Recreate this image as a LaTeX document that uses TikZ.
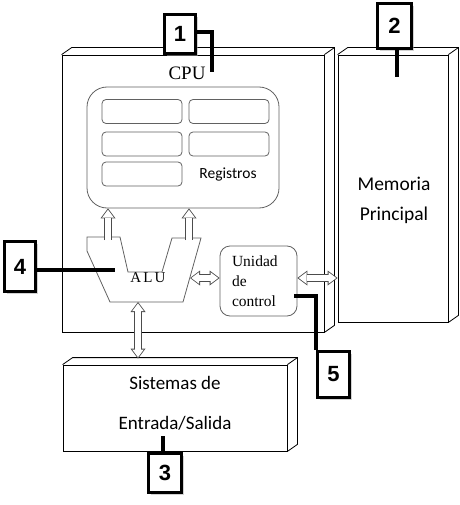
\documentclass[tikz,border=0pt]{standalone}
\usepackage{fontspec}
\newfontfamily\calfont{Carlito}
\newfontfamily\timesfont{Liberation Serif}
\newfontfamily\alufont[LetterSpace=14]{Liberation Serif}
\newfontfamily\numfont{Liberation Sans}
\usetikzlibrary{arrows.meta,shadows}
\colorlet{shapeline}{black!62}

\begin{document}
\begin{tikzpicture}[x=1pt, y=-1pt,
    cube/.style={draw, line width=0.8pt, rectangle, inner sep=0pt},
    regbox/.style={draw=shapeline, line width=0.8pt, rounded corners=4pt, minimum width=80pt, minimum height=24pt},
    callout/.style={draw, line width=3.2pt, fill=white, inner sep=0pt,
        drop shadow={shadow xshift=2.5pt, shadow yshift=-2.5pt, fill=black!35},
        font=\numfont\bfseries\fontsize{22}{22}\selectfont},
    lead/.style={line width=3.2pt},
    busout/.tip={Triangle[length=10pt, width=15pt, line width=0pt]},
    busin/.tip={Triangle[length=7.7pt, width=11.6pt, line width=0pt]},
    bus/.style={white, line width=6.2pt, shorten >=1.4pt, shorten <=1.4pt, {busin}-{busin},
        preaction={draw=black!70, line width=8pt, shorten >=0pt, shorten <=0pt, {busout}-{busout}}},
    busup/.style={white, line width=6.2pt, shorten >=1.4pt, -{busin},
        preaction={draw=black!70, line width=8pt, shorten >=0pt, -{busout}}}]
    \useasboundingbox (0,0) rectangle (459,505);

    % cajas principales
    \node[cube, minimum width=262pt, minimum height=277pt] (cpu) at (193,193.5) {};
    \node[cube, minimum width=110pt, minimum height=267pt] (mem) at (393,188.5) {};
    \node[cube, minimum width=224pt, minimum height=86pt] (io) at (175,408) {};
    \foreach \b in {cpu,mem,io} {
        \draw[line width=0.8pt] (\b.north west) -- ++(10,-7) -- ([shift={(10,-7)}]\b.north east)
            -- ([shift={(10,-7)}]\b.south east) -- (\b.south east);
        \draw[line width=0.8pt] (\b.north east) -- ++(10,-7);
    }
    \node[font=\timesfont\fontsize{19}{19}\selectfont] (cpulabel) at (187,73) {CPU};
    \node[font=\calfont\fontsize{19.5}{30}\selectfont, align=center] (memlabel) at (394,200) {Memoria\\Principal};
    \node[font=\calfont\fontsize{19}{40}\selectfont, align=center] (iolabel) at (175,403) {Sistemas de\\Entrada/Salida};

    % registros
    \node[draw=shapeline, line width=0.8pt, rounded corners=20pt, minimum width=192pt, minimum height=121pt] (reg) at (183,147.5) {};
    \node[regbox] (r1) at (142,111.5) {};
    \node[regbox] (r2) at (229,111.5) {};
    \node[regbox] (r3) at (142,144) {};
    \node[regbox] (r4) at (229,144) {};
    \node[regbox] (r5) at (142,174) {};
    \node[font=\calfont\fontsize{15.5}{15.5}\selectfont] (reglabel) at (228,175) {Registros};

    % ALU
    \draw[shapeline, line width=0.8pt] (87,237) -- (120,237) -- (128,272) -- (162,272) -- (172,238)
        -- (201,238) -- (183,302) -- (110,302) -- (87,251) -- cycle;
    \node[font=\alufont\fontsize{15}{15}\selectfont] (alu) at (148,278) {ALU};
    \coordinate (alua) at (108,240);
    \coordinate (alub) at (189,240);
    \coordinate (aluc) at (190,278);
    \coordinate (alud) at (138,302);

    % unidad de control
    \node[draw=shapeline, line width=0.8pt, rounded corners=10pt, minimum width=77pt, minimum height=70pt,
        text width=53pt, inner xsep=12pt, align=left, font=\timesfont\fontsize{15.5}{20}\selectfont] (cu) at (258.5,281) {Unidad\\de\\control};

    % buses
    \draw[busup] (alua) -- (alua |- reg.south);
    \draw[busup] (alub) -- (alub |- reg.south);
    \draw[bus] (aluc) -- (aluc -| cu.west);
    \draw[bus] (aluc -| cu.east) -- (aluc -| mem.west);
    \draw[bus] (alud) -- ([yshift=6pt]alud |- io.north);

    % llamadas numeradas
    \node[callout, minimum width=31pt, minimum height=39pt] (n1) at (180,34) {1};
    \node[callout, minimum width=34pt, minimum height=45pt] (n2) at (394.5,26) {2};
    \node[callout, minimum width=33pt, minimum height=39pt] (n3) at (165,473) {3};
    \node[callout, minimum width=31pt, minimum height=50pt] (n4) at (20,266.5) {4};
    \node[callout, minimum width=32pt, minimum height=46pt] (n5) at (333.5,374.5) {5};
    \coordinate (p1) at (212,72);
    \coordinate (p2) at (397,77);
    \coordinate (p3) at (163,436);
    \coordinate (p4) at (115,270);
    \coordinate (p5) at (294,296);
    \draw[lead] ([yshift=2pt]n1.east) -| (p1);
    \draw[lead] (p2 |- n2.south) -- (p2);
    \draw[lead] (p3) -- (p3 |- n3.north);
    \draw[lead] (n4.east |- p4) -- (p4);
    \draw[lead] (p5) -| (n5.north west);
\end{tikzpicture}
\end{document}
